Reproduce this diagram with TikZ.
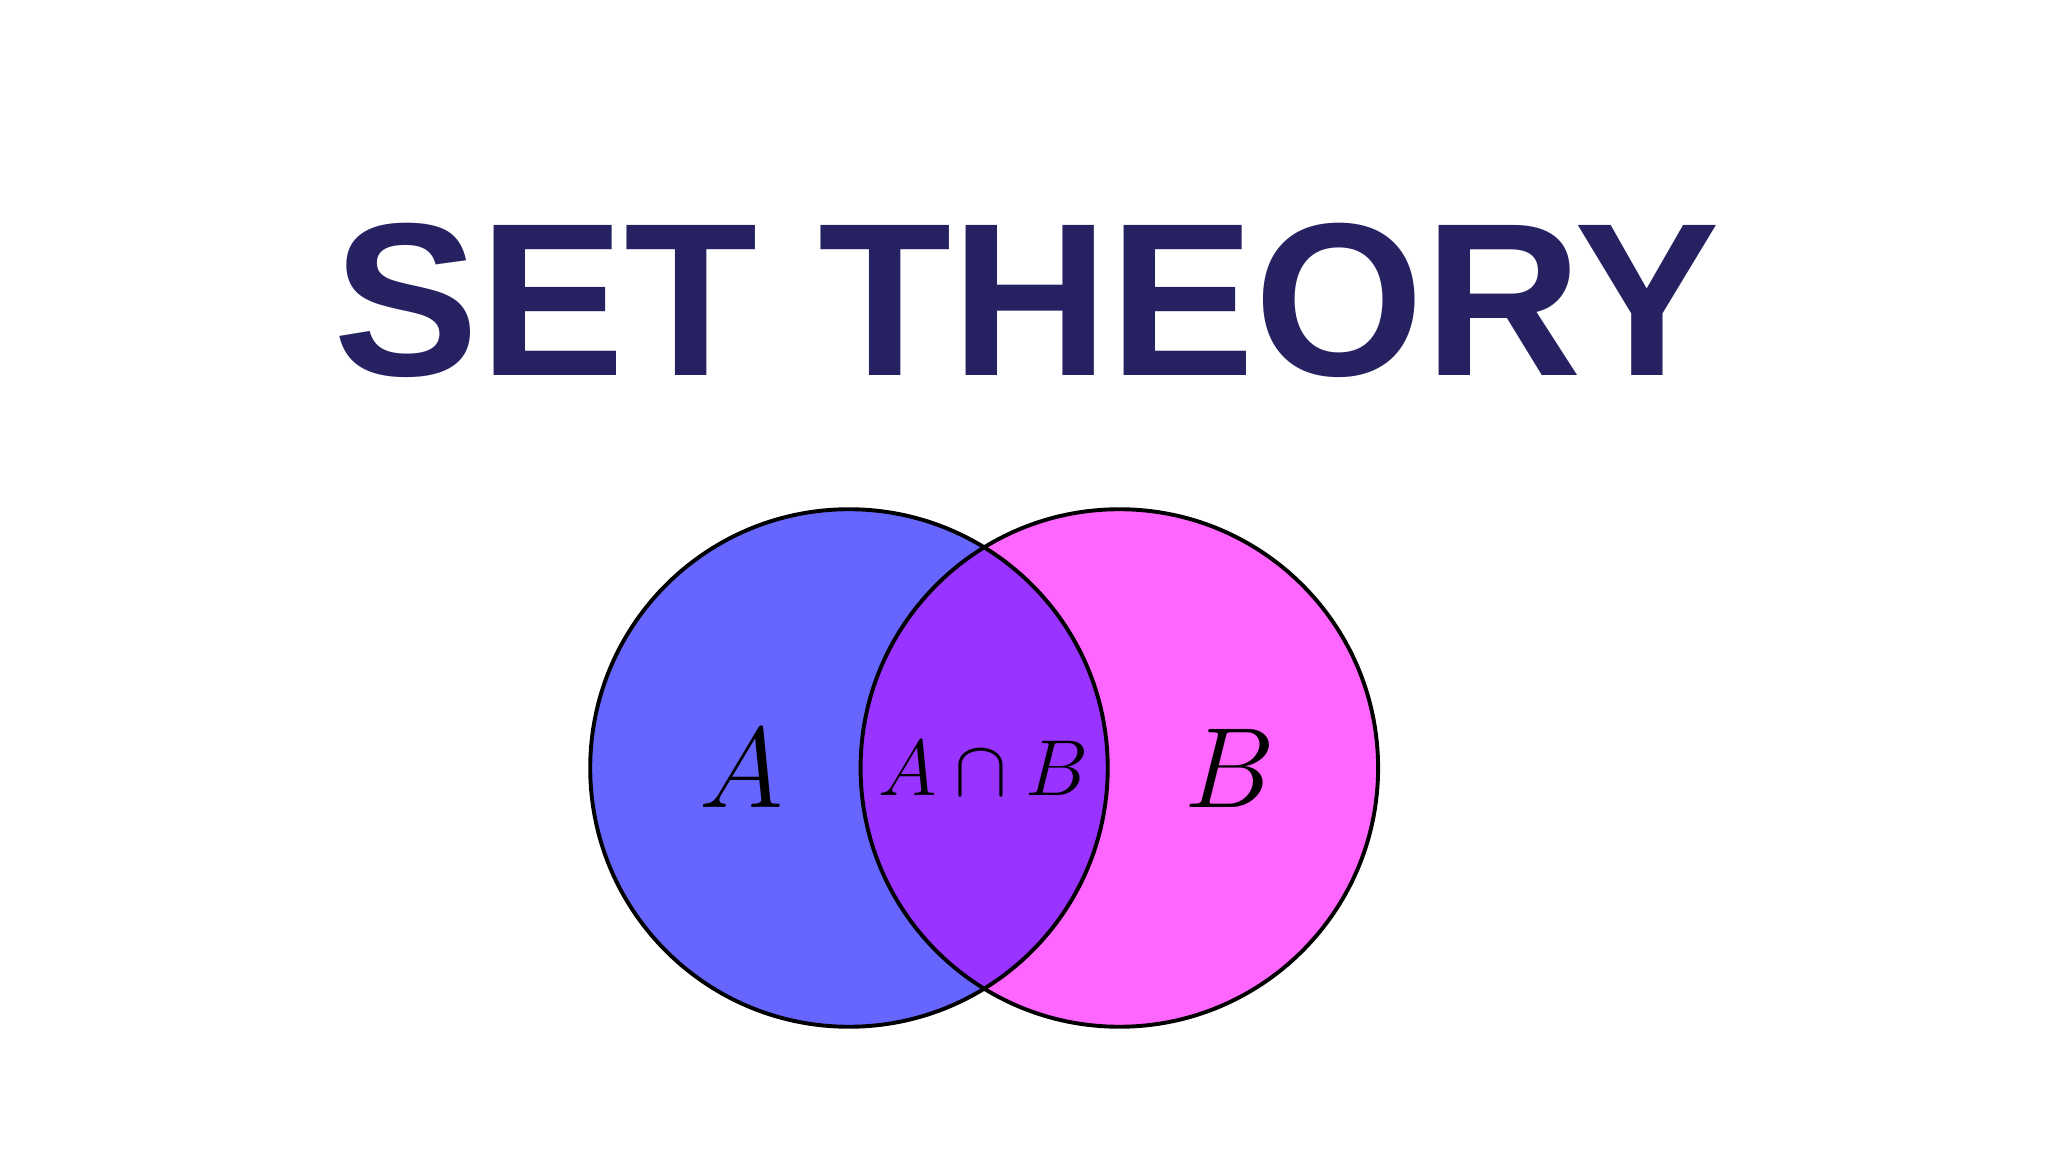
\documentclass[tikz,border=0pt]{standalone}
\usepackage{fontspec}
\newfontfamily\titlefont{Liberation Sans}
\definecolor{navy}{HTML}{262262}
\definecolor{cA}{HTML}{6666FF}
\definecolor{cB}{HTML}{FF66FF}
\definecolor{cAB}{HTML}{9933FF}
\begin{document}
\begin{tikzpicture}[x=0.01cm,y=-0.01cm,
  ring/.style={draw=black,line width=0.85pt}]
\useasboundingbox (0,0) rectangle (1568,882);
\fill[cA] (650,588) circle[radius=198];
\fill[cB] (857,588) circle[radius=198];
\begin{scope}
  \clip (650,588) circle[radius=198];
  \fill[cAB] (857,588) circle[radius=198];
\end{scope}
\node[ring,circle,minimum size=3.96cm,inner sep=0] (A) at (650,588) {};
\node[ring,circle,minimum size=3.96cm,inner sep=0] (B) at (857,588) {};
\node[text=navy,font=\titlefont\bfseries\fontsize{47.5}{50}\selectfont,inner sep=0] (title) at (786,230) {SET THEORY};
\node[font=\fontsize{25}{28}\selectfont] (la) at (568,588) {$A$};
\node[font=\fontsize{25}{28}\selectfont] (lb) at (942,588) {$B$};
\node[font=\fontsize{17.5}{20}\selectfont] (lab) at (753,588) {$A\cap B$};
\end{tikzpicture}
\end{document}
